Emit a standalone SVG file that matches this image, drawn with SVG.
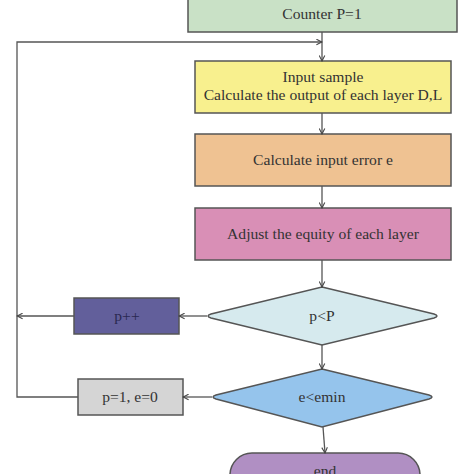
<svg xmlns="http://www.w3.org/2000/svg" width="474" height="474" viewBox="0 0 474 474">
<defs>
<style>
.box{stroke:#555;stroke-width:1.5}
.t{font-family:"Liberation Serif","Times New Roman",serif;font-size:15.6px;fill:#333;text-anchor:middle}
.ln{fill:none;stroke:#555;stroke-width:1.3}
</style>
<marker id="arr" viewBox="0 0 10 10" refX="9" refY="5" markerWidth="7" markerHeight="7" orient="auto" markerUnits="userSpaceOnUse">
<path d="M1,1 L9,5 L1,9" fill="none" stroke="#444" stroke-width="1.5"/>
</marker>
</defs>
<rect width="474" height="474" fill="#fff"/>
<g id="init">
<rect class="box" x="188" y="-10" width="269" height="42" fill="#c9e1c6"/>
<text class="t" x="322" y="19">Counter P=1</text>
</g>
<g id="input">
<rect class="box" x="195" y="61" width="256" height="52" fill="#f8f08e"/>
<text class="t" x="323" y="82">Input sample</text>
<text class="t" x="323" y="100">Calculate the output of each layer D,L</text>
</g>
<g id="error">
<rect class="box" x="195" y="134" width="256" height="52" fill="#efc292"/>
<text class="t" x="323" y="165">Calculate input error e</text>
</g>
<g id="adjust">
<rect class="box" x="195" y="208" width="256" height="52" fill="#d98fb6"/>
<text class="t" x="323" y="239">Adjust the equity of each layer</text>
</g>
<g id="pltP">
<path class="box" d="M322,287 L434,314 Q440,316 434,318 L322,345 L211,318 Q205,316 211,314 Z" fill="#d6eaee"/>
<text class="t" x="322" y="321">p&lt;P</text>
</g>
<g id="pinc">
<rect class="box" x="74" y="298" width="105" height="36" fill="#625f9b"/>
<text class="t" x="127" y="321" style="fill:#2a2850">p++</text>
</g>
<g id="emin">
<path class="box" d="M322,369 L429,395 Q435,397 429,399 L322,427 L216,399 Q210,397 216,395 Z" fill="#95c4ec"/>
<text class="t" x="322" y="402">e&lt;emin</text>
</g>
<g id="reset">
<rect class="box" x="78" y="379" width="105" height="36" fill="#d5d5d5"/>
<text class="t" x="130" y="402">p=1, e=0</text>
</g>
<g id="end">
<rect class="box" x="230" y="453" width="190" height="50" rx="22" fill="#b08fc3"/>
<text class="t" x="325" y="476">end</text>
</g>
<g id="connectors">
<path class="ln" d="M322,32 L322,61" marker-end="url(#arr)"/>
<path class="ln" d="M17,316 L17,42 L322,42" marker-end="url(#arr)"/>
<path class="ln" d="M322,113 L322,134" marker-end="url(#arr)"/>
<path class="ln" d="M322,186 L322,208" marker-end="url(#arr)"/>
<path class="ln" d="M322,260 L322,287" marker-end="url(#arr)"/>
<path class="ln" d="M207,316 L179,316" marker-end="url(#arr)"/>
<path class="ln" d="M74,316 L17,316" marker-end="url(#arr)"/>
<path class="ln" d="M322,345 L322,369" marker-end="url(#arr)"/>
<path class="ln" d="M212,397 L183,397" marker-end="url(#arr)"/>
<path class="ln" d="M78,397 L17,397 L17,316"/>
<path class="ln" d="M323,427 L325,453" marker-end="url(#arr)"/>
</g>
</svg>
